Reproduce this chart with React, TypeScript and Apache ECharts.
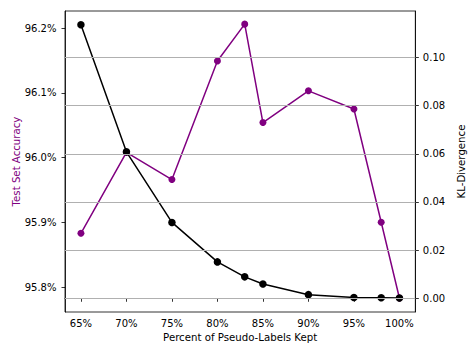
import React, { useEffect, useRef } from "react";
import * as echarts from "echarts";

const percentKept = [65, 70, 75, 80, 83, 85, 90, 95, 98, 100];
const accuracy = [95.883, 96.008, 95.966, 96.149, 96.206, 96.054, 96.103, 96.075, 95.9, 95.783];
const klDivergence = [0.1136, 0.0608, 0.0315, 0.0151, 0.0089, 0.0059, 0.0015, 0.0003, 0.0002, 0.0001];
const xTicks = [65, 70, 75, 80, 85, 90, 95, 100];
const accTicks = [95.8, 95.9, 96.0, 96.1, 96.2];
const klTicks = [0, 0.02, 0.04, 0.06, 0.08, 0.1];

const FONT = "DejaVu Sans";

export default function App() {
  const ref = useRef<HTMLDivElement>(null);
  useEffect(() => {
    if (!ref.current) return;
    const chart = echarts.init(ref.current, undefined, { renderer: "svg" });
    const tickStyle = { show: true, length: 3.5, lineStyle: { color: "#000", width: 0.8 } };
    chart.setOption({
      animation: false,
      backgroundColor: "#fff",
      grid: { left: 65, right: 56, top: 11, bottom: 43, show: true, borderColor: "#000", borderWidth: 0.8, backgroundColor: "transparent" },
      xAxis: {
        type: "value",
        min: 63.25,
        max: 101.75,
        name: "Percent of Pseudo-Labels Kept",
        nameLocation: "middle",
        nameGap: 20,
        nameTextStyle: { fontFamily: FONT, fontSize: 10.2, color: "#000" },
        axisLine: { show: true, lineStyle: { color: "#000", width: 0.8 } },
        axisTick: { ...tickStyle, customValues: xTicks },
        axisLabel: { customValues: xTicks, fontFamily: FONT, fontSize: 10, color: "#000", margin: 6, formatter: (v: number) => v + "%" },
        splitLine: { show: false },
      },
      yAxis: [
        {
          type: "value",
          position: "left",
          min: 95.7614,
          max: 96.2263,
          name: "Test Set Accuracy",
          nameLocation: "middle",
          nameGap: 44,
          nameMoveOverlap: false,
          nameTextStyle: { fontFamily: FONT, fontSize: 10.2, color: "purple" },
          axisLine: { show: true, lineStyle: { color: "#000", width: 0.8 } },
          axisTick: { ...tickStyle, customValues: accTicks },
          axisLabel: { customValues: accTicks, fontFamily: FONT, fontSize: 10, color: "#000", margin: 8.5, formatter: (v: number) => v.toFixed(1) + "%" },
          splitLine: { show: false },
        },
        {
          type: "value",
          position: "right",
          min: -0.0057,
          max: 0.1193,
          name: "KL-Divergence",
          nameLocation: "middle",
          nameGap: 34,
          nameTextStyle: { fontFamily: FONT, fontSize: 10.2, color: "#000" },
          axisLine: { show: true, lineStyle: { color: "#000", width: 0.8 } },
          axisTick: { ...tickStyle, customValues: klTicks },
          axisLabel: { customValues: klTicks, fontFamily: FONT, fontSize: 10, color: "#000", margin: 7.5, formatter: (v: number) => v.toFixed(2) },
          splitLine: { show: false },
        },
      ],
      series: [
        {
          type: "line",
          yAxisIndex: 1,
          data: [],
          z: 1,
          silent: true,
          markLine: {
            silent: true,
            symbol: "none",
            label: { show: false },
            lineStyle: { color: "#b0b0b0", width: 1, type: "solid" },
            data: klTicks.map((t) => ({ yAxis: t })),
          },
        },
        {
          type: "line",
          yAxisIndex: 0,
          z: 3,
          data: percentKept.map((x, i) => [x, accuracy[i]]),
          symbol: "circle",
          symbolSize: 7,
          showSymbol: true,
          lineStyle: { color: "purple", width: 1.5 },
          itemStyle: { color: "purple" },
        },
        {
          type: "line",
          yAxisIndex: 1,
          z: 4,
          data: percentKept.map((x, i) => [x, klDivergence[i]]),
          symbol: "circle",
          symbolSize: 7.5,
          showSymbol: true,
          lineStyle: { color: "#000", width: 1.5 },
          itemStyle: { color: "#000" },
        },
      ],
    });
    return () => chart.dispose();
  }, []);
  return <div ref={ref} style={{ position: "fixed", left: 0, top: 0, width: 474, height: 355 }} />;
}
